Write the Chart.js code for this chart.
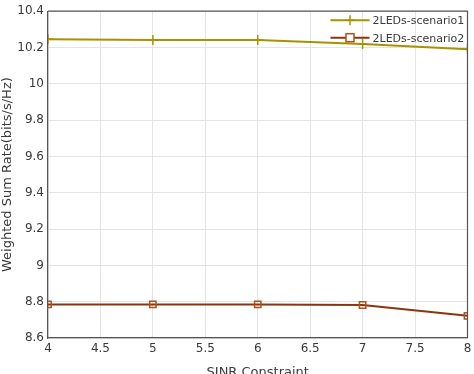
<!DOCTYPE html>
<html>
<head>
<meta charset="utf-8">
<script src="https://cdn.jsdelivr.net/npm/chart.js@4/dist/chart.umd.min.js"></script>
<style>
  html, body { margin: 0; padding: 0; background: #fff; overflow: hidden; }
  #wrap { width: 474px; height: 380px; }
</style>
</head>
<body>
<div id="wrap"><canvas id="chart" width="474" height="380"></canvas></div>
<script>
const sinrValues = [4, 5, 6, 7, 8];
const scenario1 = [10.245, 10.242, 10.242, 10.22, 10.19];
const scenario2 = [8.785, 8.785, 8.785, 8.782, 8.722];
const xTicks = [4, 4.5, 5, 5.5, 6, 6.5, 7, 7.5, 8];
const yTicks = [8.6, 8.8, 9, 9.2, 9.4, 9.6, 9.8, 10, 10.2, 10.4];

const textColor = '#3a3a3a';
const axisColor = '#555';

// legend drawn inside the plot, top right, plus the top/right frame lines
const insideLegend = {
    id: 'insideLegend',
    afterDraw(chart) {
        const ctx = chart.ctx;
        const area = chart.chartArea;
        ctx.save();
        ctx.strokeStyle = axisColor;
        ctx.lineWidth = 1.2;
        ctx.beginPath();
        ctx.moveTo(area.left, area.top);
        ctx.lineTo(area.right, area.top);
        ctx.lineTo(area.right, area.bottom);
        ctx.stroke();

        ctx.font = '11px "DejaVu Sans"';
        ctx.textBaseline = 'middle';
        chart.data.datasets.forEach((ds, i) => {
            const y = area.top + 9 + i * 17.5;
            const x0 = area.right - 137;
            const x1 = x0 + 39;
            ctx.strokeStyle = ds.borderColor;
            ctx.lineWidth = 2;
            ctx.beginPath();
            ctx.moveTo(x0, y);
            ctx.lineTo(x1, y);
            ctx.stroke();
            const mx = (x0 + x1) / 2;
            ctx.strokeStyle = ds.pointBorderColor;
            ctx.lineWidth = 1.5;
            if (ds.pointStyle === 'rect') {
                ctx.fillStyle = '#fff';
                ctx.fillRect(mx - 4, y - 4, 8, 8);
                ctx.strokeRect(mx - 4, y - 4, 8, 8);
            } else {
                ctx.beginPath();
                ctx.moveTo(mx - 5, y); ctx.lineTo(mx + 5, y);
                ctx.moveTo(mx, y - 5); ctx.lineTo(mx, y + 5);
                ctx.stroke();
            }
            ctx.fillStyle = textColor;
            ctx.fillText(ds.label, x1 + 3, y + 1);
        });
        ctx.restore();
    }
};

new Chart(document.getElementById('chart'), {
    type: 'line',
    data: {
        datasets: [
            {
                label: '2LEDs-scenario1',
                data: sinrValues.map((x, i) => ({ x: x, y: scenario1[i] })),
                borderColor: '#a89200',
                pointBorderColor: '#a89200',
                borderWidth: 2,
                pointStyle: 'cross',
                pointRadius: 5,
                pointBorderWidth: 1.5,
                fill: false
            },
            {
                label: '2LEDs-scenario2',
                data: sinrValues.map((x, i) => ({ x: x, y: scenario2[i] })),
                borderColor: '#8a3510',
                pointBorderColor: '#b0501c',
                pointBackgroundColor: 'rgba(255,255,255,0)',
                borderWidth: 2,
                pointStyle: 'rect',
                pointRadius: 4.5,
                pointBorderWidth: 1.5,
                fill: false
            }
        ]
    },
    options: {
        responsive: false,
        animation: false,
        layout: { padding: { top: 6, right: 0, left: 0, bottom: 0 } },
        plugins: { legend: { display: false }, tooltip: { enabled: false } },
        scales: {
            x: {
                type: 'linear',
                min: 4,
                max: 8,
                afterBuildTicks: (axis) => { axis.ticks = xTicks.map(v => ({ value: v })); },
                afterFit: (axis) => { axis.height = 42; axis.paddingRight = 4; axis.paddingLeft = 0; },
                grid: { color: '#e4e4e4', drawTicks: false, tickLength: 0 },
                border: { color: axisColor, width: 1.2 },
                ticks: { color: textColor, font: { family: 'DejaVu Sans', size: 12 }, padding: 4, maxRotation: 0, callback: (v) => String(v) },
                title: { display: true, text: 'SINR Constraint', color: textColor, font: { family: 'DejaVu Sans', size: 13 }, padding: { top: 2, bottom: 0 } }
            },
            y: {
                min: 8.6,
                max: 10.4,
                afterBuildTicks: (axis) => { axis.ticks = yTicks.map(v => ({ value: v })); },
                afterFit: (axis) => { axis.width = 48; },
                grid: { color: '#e4e4e4', drawTicks: false, tickLength: 0 },
                border: { color: axisColor, width: 1.2 },
                ticks: { color: textColor, font: { family: 'DejaVu Sans', size: 12 }, padding: 4, callback: (v) => String(Math.round(v * 10) / 10) },
                title: { display: true, text: 'Weighted Sum Rate(bits/s/Hz)', color: textColor, font: { family: 'DejaVu Sans', size: 13 }, padding: { top: 0, bottom: 0 } }
            }
        }
    },
    plugins: [insideLegend]
});
</script>
</body>
</html>
